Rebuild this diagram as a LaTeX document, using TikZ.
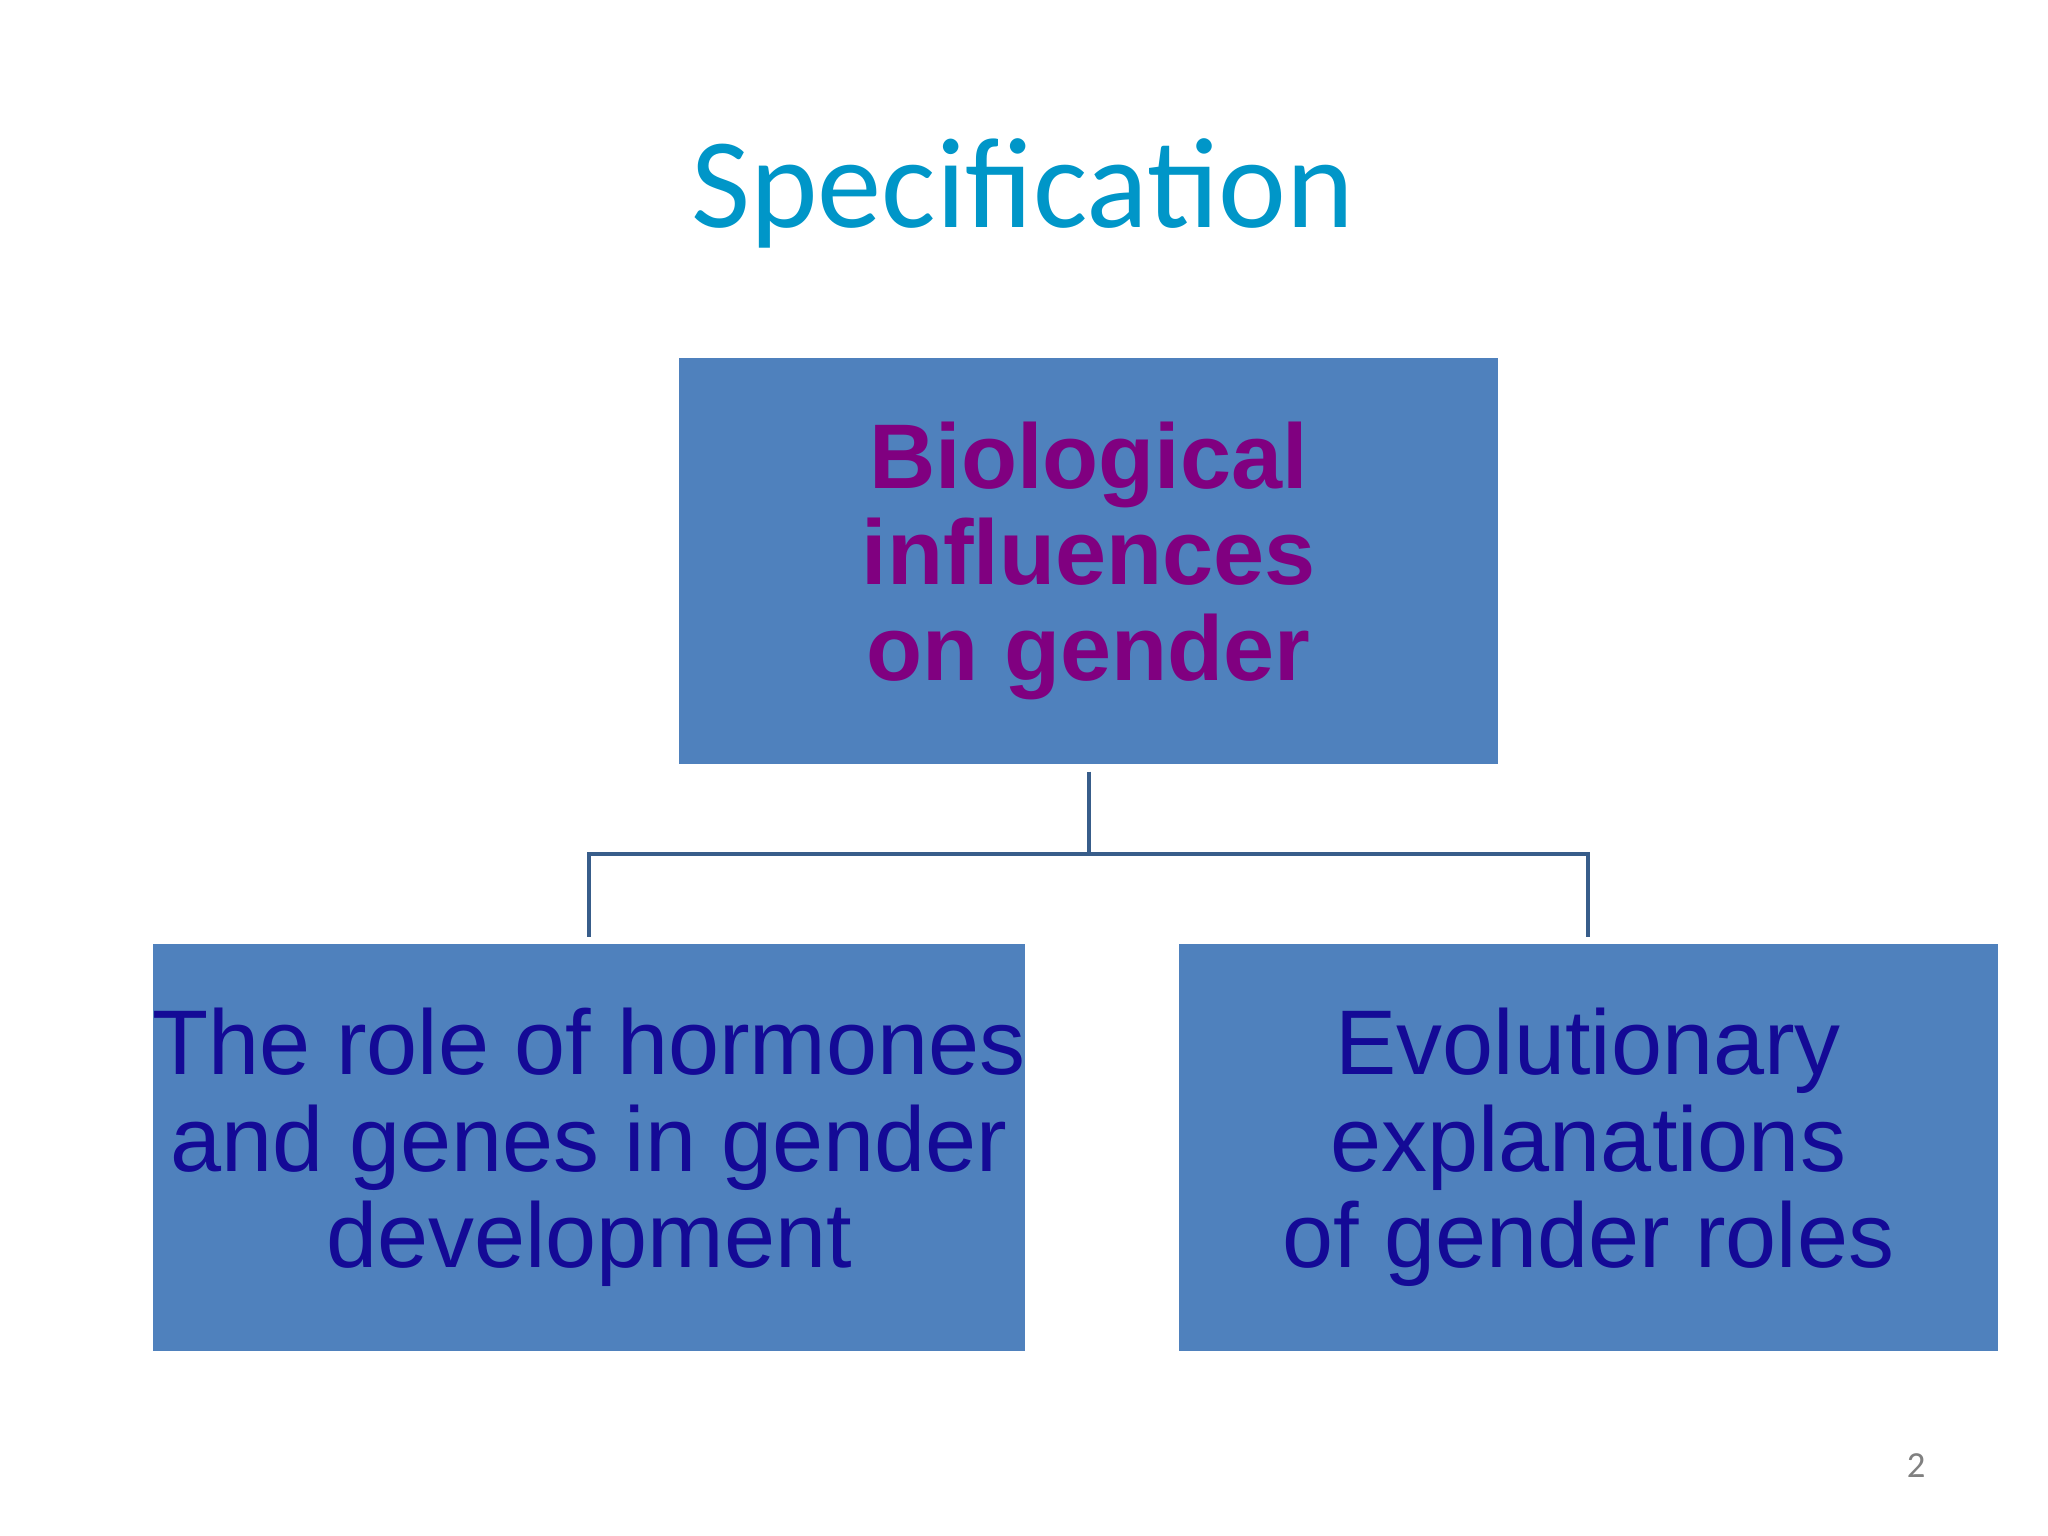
\documentclass[tikz,border=0pt]{standalone}
\usepackage{fontspec}
\setmainfont{Liberation Sans}
\newfontfamily\titlefont{Carlito}
\usetikzlibrary{positioning}
\definecolor{boxblue}{RGB}{79,129,189}
\definecolor{linkblue}{RGB}{56,93,138}
\definecolor{titleblue}{RGB}{0,150,200}
\definecolor{toptext}{RGB}{128,0,128}
\definecolor{subtext}{RGB}{20,10,150}
\tikzset{
  topic/.style={fill=boxblue,minimum width=6.27cm,minimum height=3.11cm,
    align=center,inner sep=0pt,font=\fontsize{20}{21}\selectfont},
  link/.style={draw=linkblue,line width=0.9pt}
}
\begin{document}
\begin{tikzpicture}
\useasboundingbox (0,0) rectangle (15.68,-11.76);
\node [font=\titlefont\fontsize{28}{30}\selectfont,text=titleblue] (title) at (7.83,-1.48) {Specification};
\node [topic,text=toptext,font=\bfseries\fontsize{20}{21}\selectfont] (bio) at (8.335,-4.295) {Biological\\influences\\ on gender};
\node [topic,text=subtext] (hormones) at (4.51,-8.785) {The role of hormones\\and genes in gender\\development};
\node [topic,text=subtext] (evolution) at (12.16,-8.785) {Evolutionary\\explanations\\of gender roles};
\coordinate (split) at (8.335,-6.54);
\draw [link] ([yshift=-0.05cm]bio.south) -- (split);
\draw [link] (split) -| ([yshift=0.05cm]hormones.north);
\draw [link] (split) -| ([yshift=0.05cm]evolution.north);
\node [font=\titlefont\fontsize{8}{9}\selectfont,text=gray] (page) at (14.67,-11.22) {2};
\end{tikzpicture}
\end{document}
